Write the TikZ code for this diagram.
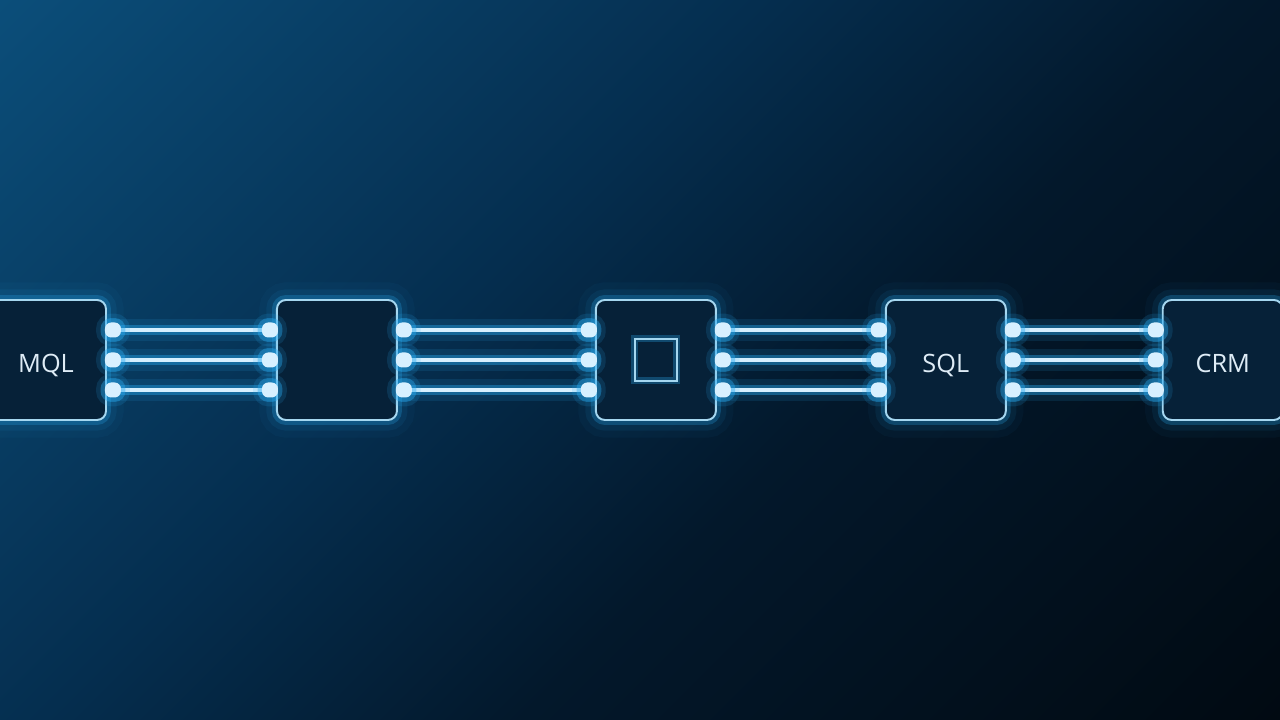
\documentclass[tikz,border=0pt]{standalone}
\usepackage{fontspec}
\setmainfont{Open Sans}
\usepackage{xcolor}
\usepackage{tikz}
\usetikzlibrary{positioning}

\definecolor{bgTop}{RGB}{11,78,122}
\definecolor{bgMid}{RGB}{5,46,79}
\definecolor{bgDeep}{RGB}{3,24,43}
\definecolor{bgLow}{RGB}{1,10,18}
\definecolor{glow}{RGB}{40,170,240}
\definecolor{rim}{RGB}{165,215,240}
\definecolor{chip}{RGB}{6,33,56}
\definecolor{wirecol}{RGB}{215,240,255}
\definecolor{label}{RGB}{222,236,246}

\pgfdeclarehorizontalshading{bgfade}{100bp}{color(0bp)=(bgTop); color(25bp)=(bgTop);
    color(44bp)=(bgMid); color(56bp)=(bgDeep); color(75bp)=(bgLow); color(100bp)=(bgLow)}

\tikzset{
    chipbox/.style={draw=rim, line width=0.55pt, fill=chip, rounded corners=0.09cm,
        minimum width=1.2cm, minimum height=1.2cm, inner sep=0pt,
        text=label, font=\fontsize{7.2}{8}\selectfont,
        text height=1.33ex, text depth=0pt,
        preaction={draw=glow, line width=10pt, opacity=0.04},
        preaction={draw=glow, line width=6pt, opacity=0.08},
        preaction={draw=glow, line width=2.8pt, opacity=0.25}},
    wire/.style={draw=wirecol, line width=0.9pt,
        preaction={draw=glow, line width=6pt, opacity=0.12},
        preaction={draw=glow, line width=2.8pt, opacity=0.4}},
    stub/.style={fill=wirecol, rounded corners=1.8pt, inner sep=0pt,
        minimum width=0.16cm, minimum height=0.15cm,
        preaction={draw=glow, line width=5pt, opacity=0.15},
        preaction={draw=glow, line width=2.5pt, opacity=0.4}},
}

\begin{document}
\begin{tikzpicture}
    \useasboundingbox (0,0) rectangle (12.8,7.2);
    \clip (0,0) rectangle (12.8,7.2);

    % Background, light in the top left corner
    \begin{scope}[transform canvas={shift={(0,7.2)}, rotate=-45}]
        \shade[shading=bgfade] (0,-6) rectangle (14.14,10);
    \end{scope}

    % The five chips
    \node[chipbox] (mql) at (0.46,3.6) {MQL};
    \node[chipbox, right=1.69cm of mql] (relay) {};
    \node[chipbox, right=1.97cm of relay] (core) {};
    \node[chipbox, right=1.68cm of core] (sql) {SQL};
    \node[chipbox, right=1.55cm of sql] (crm) {CRM};

    % Small square inside the middle chip
    \node[draw=rim, line width=0.6pt, minimum size=0.42cm, inner sep=0pt,
        preaction={draw=glow, line width=2pt, opacity=0.3}] (coreicon) at (core) {};

    % Three wires between each pair of chips
    \foreach \a/\b in {mql/relay, relay/core, core/sql, sql/crm} {
        \foreach \dy in {0.3,0,-0.3} {
            \draw[wire] ([yshift=\dy cm]\a.east) -- ([yshift=\dy cm]\b.west);
            \node[stub] at ([xshift=0.06cm,yshift=\dy cm]\a.east) {};
            \node[stub] at ([xshift=-0.06cm,yshift=\dy cm]\b.west) {};
        }
    }
\end{tikzpicture}
\end{document}
